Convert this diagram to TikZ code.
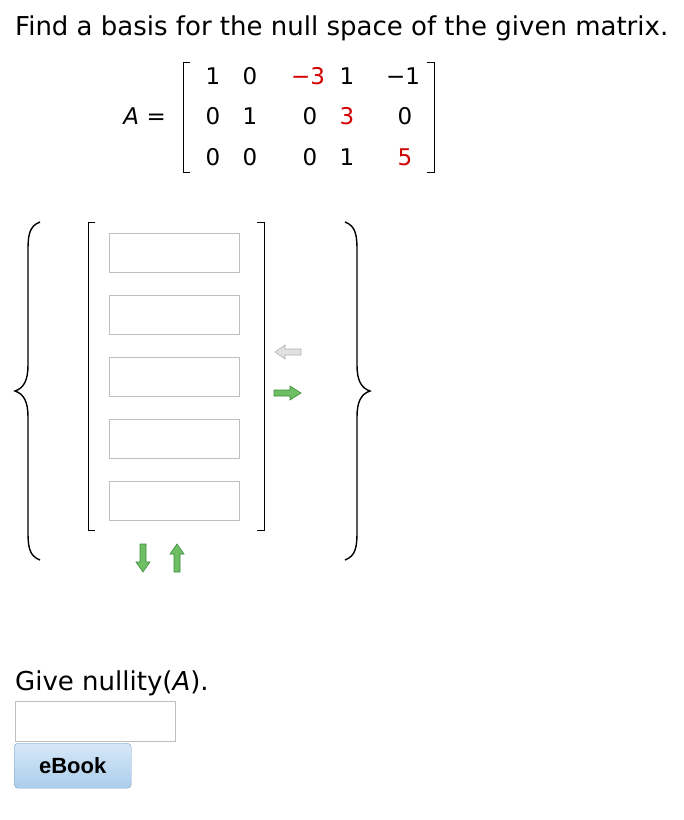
\documentclass[tikz,border=0pt]{standalone}
\usepackage{fontspec}
\setmainfont{DejaVu Sans}
\newfontfamily\btnfont{Liberation Sans}
\begin{document}
\begin{tikzpicture}[x=1pt,y=-1pt,
  txt/.style={anchor=base west,inner sep=0,font=\fontsize{26}{28}\selectfont},
  ent/.style={anchor=base,inner sep=0,font=\fontsize{23}{26}\selectfont},
  red/.style={text={rgb,255:red,210;green,0;blue,0}},
  inbox/.style={draw={rgb,255:red,190;green,190;blue,190},line width=0.8pt,minimum width=130pt,minimum height=39pt,inner sep=0,anchor=north west},
  brk/.style={line width=1pt},
  brace/.style={line width=1.4pt},
  garrow/.style={draw={rgb,255:red,60;green,140;blue,60},fill={rgb,255:red,110;green,190;blue,100},line width=0.6pt}]
\useasboundingbox (0,0) rectangle (684,820);
\node[txt] (title) at (15,35) {Find a basis for the null space of the given matrix.};
\node[ent,anchor=base east] (A) at (166,124) {\textit{A} =};
% matrix brackets
\draw[brk] (190,62) -- (183,62) -- (183,172) -- (190,172);
\draw[brk] (427,62) -- (434,62) -- (434,172) -- (427,172);
\node[ent] (a11) at (213,84) {1};
\node[ent] (a12) at (250,84) {0};
\node[ent,red] (a13) at (308,84) {−3};
\node[ent] (a14) at (347,84) {1};
\node[ent] (a15) at (403,84) {−1};
\node[ent] (a21) at (213,124) {0};
\node[ent] (a22) at (250,124) {1};
\node[ent] (a23) at (310,124) {0};
\node[ent,red] (a24) at (347,124) {3};
\node[ent] (a25) at (405,124) {0};
\node[ent] (a31) at (213,165) {0};
\node[ent] (a32) at (250,165) {0};
\node[ent] (a33) at (310,165) {0};
\node[ent] (a34) at (347,165) {1};
\node[ent,red] (a35) at (405,165) {5};
% braces
\draw[brace] (40,222) .. controls (29,226) and (28,236) .. (28,250) -- (28,365)
  .. controls (28,380) and (24,388) .. (15,391)
  .. controls (24,394) and (28,402) .. (28,417) -- (28,532)
  .. controls (28,546) and (29,556) .. (40,560);
\draw[brace] (345,222) .. controls (356,226) and (357,236) .. (357,250) -- (357,365)
  .. controls (357,380) and (361,388) .. (370,391)
  .. controls (361,394) and (357,402) .. (357,417) -- (357,532)
  .. controls (357,546) and (356,556) .. (345,560);
% inner brackets
\draw[brk] (95,222) -- (88,222) -- (88,530) -- (95,530);
\draw[brk] (257,222) -- (264,222) -- (264,530) -- (257,530);
\node[inbox] (b1) at (109,233) {};
\node[inbox] (b2) at (109,295) {};
\node[inbox] (b3) at (109,357) {};
\node[inbox] (b4) at (109,419) {};
\node[inbox] (b5) at (109,481) {};
% side arrows
\draw[draw={rgb,255:red,175;green,175;blue,175},fill={rgb,255:red,225;green,225;blue,225},line width=0.6pt]
  (301,349) -- (285,349) -- (285,345) -- (275,352) -- (285,359) -- (285,355) -- (301,355) -- cycle;
\draw[garrow] (274,390) -- (290,390) -- (290,386) -- (301,393) -- (290,400) -- (290,396) -- (274,396) -- cycle;
% down/up arrows
\draw[garrow] (140,544) -- (146,544) -- (146,562) -- (150,562) -- (143,572) -- (136,562) -- (140,562) -- cycle;
\draw[garrow] (174,572) -- (180,572) -- (180,554) -- (184,554) -- (177,544) -- (170,554) -- (174,554) -- cycle;
\node[txt] (q2) at (15,690) {Give nullity(\textit{A}).};
\node[inbox,minimum width=160pt,minimum height=40pt] (ans) at (15,701) {};
\node[draw={rgb,255:red,120;green,160;blue,200},rounded corners=4pt,top color={rgb,255:red,215;green,232;blue,248},bottom color={rgb,255:red,170;green,205;blue,235},minimum width=117pt,minimum height=45pt,inner sep=0,anchor=north west,font=\fontsize{22}{24}\btnfont\bfseries] (ebook) at (14,743) {eBook};
\end{tikzpicture}
\end{document}
